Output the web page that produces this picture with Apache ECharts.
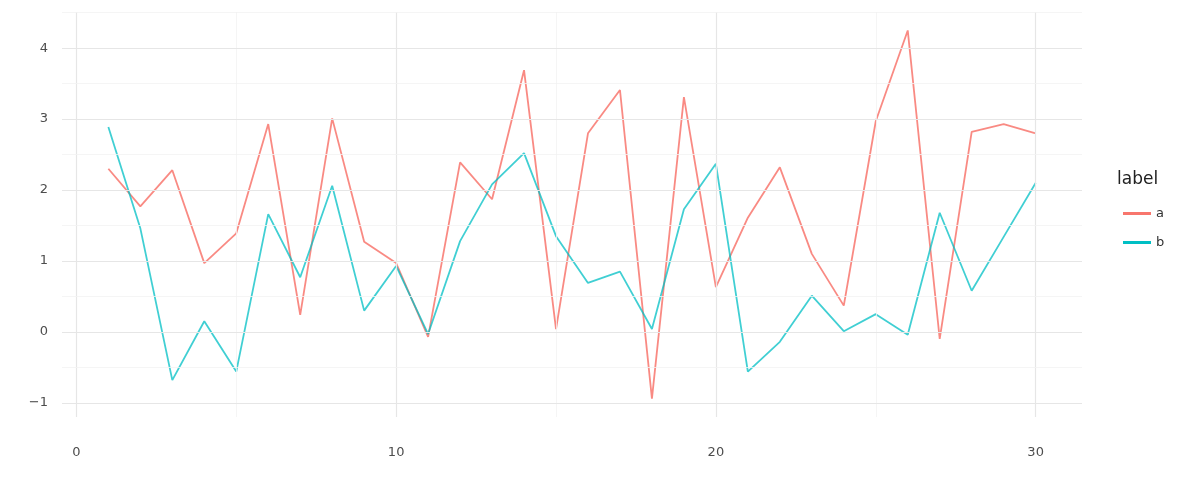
<!DOCTYPE html>
<html><head><meta charset="utf-8">
<script src="https://cdn.jsdelivr.net/npm/echarts@6/dist/echarts.min.js"></script>
<style>html,body{margin:0;padding:0;background:#fff}#c{width:1200px;height:487px}</style>
</head><body><div id="c"></div>
<script>
const xs = [1,2,3,4,5,6,7,8,9,10,11,12,13,14,15,16,17,18,19,20,21,22,23,24,25,26,27,28,29,30];
const seriesA = [2.30,1.77,2.28,0.97,1.39,2.93,0.24,3.01,1.27,0.97,-0.07,2.39,1.87,3.69,0.04,2.80,3.41,-0.94,3.31,0.63,1.61,2.32,1.10,0.37,2.97,4.25,-0.10,2.82,2.93,2.80];
const seriesB = [2.89,1.46,-0.68,0.15,-0.56,1.66,0.77,2.06,0.30,0.93,-0.03,1.28,2.08,2.52,1.35,0.69,0.85,0.04,1.73,2.37,-0.56,-0.14,0.51,0.01,0.25,-0.04,1.68,0.58,1.34,2.10];
const xTicks = [0,10,20,30];
const xMinor = [5,15,25];
const yTicks = [-1,0,1,2,3,4];
const yMinor = [-0.5,0.5,1.5,2.5,3.5,4.5];

const major = {color:'#e6e6e6', width:1.2, type:'solid'};
const minor = {color:'#f3f3f3', width:0.8, type:'solid'};
const gridLines = [];
xTicks.forEach(v=>gridLines.push({xAxis:v, lineStyle:major}));
xMinor.forEach(v=>gridLines.push({xAxis:v, lineStyle:minor}));
yTicks.forEach(v=>gridLines.push({yAxis:v, lineStyle:major}));
yMinor.forEach(v=>gridLines.push({yAxis:v, lineStyle:minor}));

const chart = echarts.init(document.getElementById('c'));
chart.setOption({
  animation:false,
  textStyle:{fontFamily:'DejaVu Sans'},
  grid:{left:62,right:118,top:12,bottom:70},
  xAxis:{type:'value',min:-0.45,max:31.45,
    axisLine:{show:false},axisTick:{show:false},splitLine:{show:false},
    axisLabel:{customValues:xTicks,color:'#4d4d4d',fontSize:13,margin:29}},
  yAxis:{type:'value',min:-1.2,max:4.51,
    axisLine:{show:false},axisTick:{show:false},splitLine:{show:false},
    axisLabel:{customValues:yTicks,color:'#4d4d4d',fontSize:13,margin:14,
      formatter:v=>v<0?'\u2212'+Math.abs(v):String(v)}},
  legend:{orient:'vertical',left:1118,top:202,itemWidth:28,itemHeight:3,itemGap:16,
    icon:'rect',textStyle:{color:'#333',fontSize:13},data:['a','b']},
  graphic:[{type:'text',left:1117,top:171,style:{text:'label',fontSize:17,fill:'#222',fontFamily:'DejaVu Sans'}}],
  series:[
    {type:'line',name:'grid',data:[],silent:true,
      markLine:{silent:true,symbol:'none',label:{show:false},data:gridLines}},
    {type:'line',name:'a',data:xs.map((x,i)=>[x,seriesA[i]]),showSymbol:false,
      itemStyle:{color:'#F8766D'},lineStyle:{color:'#F8766D',width:1.8,opacity:0.85},z:3},
    {type:'line',name:'b',data:xs.map((x,i)=>[x,seriesB[i]]),showSymbol:false,
      itemStyle:{color:'#00BFC4'},lineStyle:{color:'#00BFC4',width:1.8,opacity:0.75},z:3}
  ]
});
</script></body></html>
